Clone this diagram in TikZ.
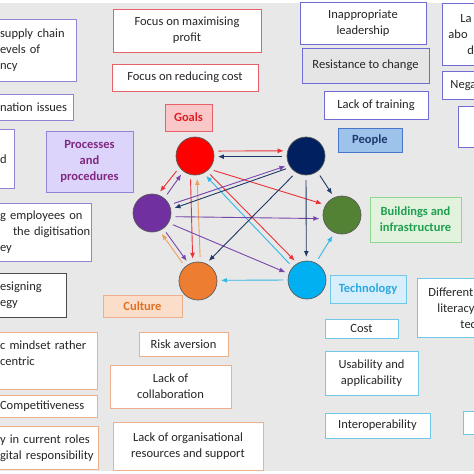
\documentclass[tikz,border=0pt]{standalone}
\usepackage{fontspec}
\setmainfont{Carlito}
\usetikzlibrary{arrows.meta}
\definecolor{bggray}{RGB}{232,232,232}
\definecolor{goalred}{RGB}{232,96,104}
\definecolor{goalfill}{RGB}{249,199,199}
\definecolor{goaltext}{RGB}{226,30,36}
\definecolor{peopleblue}{RGB}{112,108,212}
\definecolor{peoplefill}{RGB}{157,195,234}
\definecolor{peopleedge}{RGB}{72,118,200}
\definecolor{peopletext}{RGB}{30,56,110}
\definecolor{procpurple}{RGB}{150,130,210}
\definecolor{procfill}{RGB}{220,212,250}
\definecolor{proctext}{RGB}{128,40,128}
\definecolor{cultedge}{RGB}{236,176,140}
\definecolor{cultfill}{RGB}{251,222,202}
\definecolor{culttext}{RGB}{226,112,32}
\definecolor{techedge}{RGB}{112,200,232}
\definecolor{techfill}{RGB}{216,238,250}
\definecolor{techtext}{RGB}{44,168,224}
\definecolor{buildedge}{RGB}{144,214,144}
\definecolor{buildfill}{RGB}{226,242,220}
\definecolor{buildtext}{RGB}{30,160,80}
\definecolor{cred}{RGB}{255,0,0}
\definecolor{cnavy}{RGB}{0,32,96}
\definecolor{cpurple}{RGB}{112,48,160}
\definecolor{cgreen}{RGB}{84,130,53}
\definecolor{corange}{RGB}{237,125,49}
\definecolor{ccyan}{RGB}{0,176,240}
\definecolor{ared}{RGB}{236,50,56}
\definecolor{anavy}{RGB}{31,56,100}
\definecolor{apurple}{RGB}{120,70,170}
\definecolor{aorange}{RGB}{240,160,90}
\definecolor{acyan}{RGB}{50,184,230}
\begin{document}
\begin{tikzpicture}[x=1pt,y=1pt,yscale=-1,
    box/.style={draw, fill=white, line width=0.9pt, align=center, inner sep=1pt, text=black!85, font=\fontsize{12.5}{16}\selectfont},
    label/.style={box, line width=1pt, font=\fontsize{12.5}{16}\selectfont\bfseries},
    cutbox/.style={box, align=left, inner ysep=1pt},
    hub/.style={circle, draw=black!65, line width=0.7pt, minimum size=38pt, inner sep=0pt, outer sep=0pt},
    link/.style={line width=0.9pt, -{Latex[length=6pt,width=5pt]}, shorten <=5pt, shorten >=4pt}]
        %uncomment if require: \path (0,474);
        \useasboundingbox (0,0) rectangle (474,474);
        \fill[white] (0,0) rectangle (474,474);
        \fill[bggray] (0,3) rectangle (474,471);
        \clip (0,0) rectangle (474,474);

        %Shape: Circle
        \node[hub, fill=cred] (goalhub) at (195,156) {};
        %Shape: Circle
        \node[hub, fill=cnavy] (peoplehub) at (306,156) {};
        %Shape: Circle
        \node[hub, fill=cpurple] (prochub) at (152,213) {};
        %Shape: Circle
        \node[hub, fill=cgreen] (buildhub) at (342,215) {};
        %Shape: Circle
        \node[hub, fill=corange] (culthub) at (198,281) {};
        %Shape: Circle
        \node[hub, fill=ccyan] (techhub) at (307,280) {};

        %Straight Lines
        \draw[link, ared] (goalhub.15) -- (peoplehub.164);
        \draw[link, anavy] (peoplehub.182) -- (goalhub.-2);
        \draw[link, ared] (goalhub.216) -- (prochub.73);
        \draw[link, apurple] (prochub.50) -- (goalhub.233);
        \draw[link, ared] (goalhub.256) -- (culthub.106);
        \draw[link, aorange] (culthub.83) -- (goalhub.276);
        \draw[link, ared] (goalhub.-43) -- (buildhub.148);
        \draw[link, ared] (goalhub.-52) -- (techhub.120);
        \draw[link, acyan] (techhub.138) -- (goalhub.-64);
        \draw[link, apurple] (prochub.25) -- (peoplehub.208);
        \draw[link, anavy] (peoplehub.216) -- (prochub.11);
        \draw[link, apurple] (prochub.-11) -- (buildhub.191);
        \draw[link, apurple] (prochub.-31) -- (techhub.161);
        \draw[link, apurple] (prochub.-54) -- (culthub.118);
        \draw[link, aorange] (culthub.132) -- (prochub.-67);
        \draw[link, anavy] (peoplehub.-54) -- (buildhub.114);
        \draw[link, anavy] (peoplehub.-90) -- (techhub.92);
        \draw[link, anavy] (peoplehub.239) -- (culthub.65);
        \draw[link, acyan] (techhub.63) -- (buildhub.247);
        \draw[link, acyan] (techhub.180) -- (culthub.2);

        % Text Node
        \node[label, draw=goalred, fill=goalfill, text=goaltext, minimum width=47pt, minimum height=27pt] (goals) at (188.5,117.5) {Goals};
        % Text Node
        \node[label, draw=procpurple, fill=procfill, text=proctext, minimum width=87pt, minimum height=61pt] (processes) at (89.5,161.5) {Processes\\and\\procedures};
        % Text Node
        \node[label, draw=peopleedge, fill=peoplefill, text=peopletext, minimum width=64pt, minimum height=24pt] (people) at (370,140) {People};
        % Text Node
        \node[label, draw=buildedge, fill=buildfill, text=buildtext, minimum width=91pt, minimum height=45pt] (buildings) at (415.5,219.5) {Buildings and\\infrastructure};
        % Text Node
        \node[label, draw=techedge, fill=techfill, text=techtext, minimum width=76pt, minimum height=28pt] (technology) at (368,289) {Technology};
        % Text Node
        \node[label, draw=cultedge, fill=cultfill, text=culttext, minimum width=79pt, minimum height=22pt] (culture) at (142.5,306) {Culture};

        % Text Node
        \node[box, draw=goalred, minimum width=148pt, minimum height=43pt] (maximising) at (187,30.5) {Focus on maximising\\profit};
        % Text Node
        \node[box, draw=goalred, minimum width=146pt, minimum height=27pt] (reducing) at (185,77.5) {Focus on reducing cost};
        % Text Node
        \node[box, draw=peopleblue, minimum width=126pt, minimum height=42pt] (leadership) at (363,23) {Inappropriate\\leadership};
        % Text Node
        \node[box, draw=peopleblue, fill=black!10, minimum width=127pt, minimum height=35pt] (resistance) at (365.5,65.5) {Resistance to change};
        % Text Node
        \node[box, draw=peopleblue, minimum width=104pt, minimum height=28pt] (training) at (376,105) {Lack of training};
        % Text Node
        \node[box, draw=techedge, minimum width=73pt, minimum height=19pt] (cost) at (361.5,328.5) {Cost};
        % Text Node
        \node[box, draw=techedge, minimum width=93pt, minimum height=44pt] (usability) at (371.5,373) {Usability and\\applicability};
        % Text Node
        \node[box, draw=techedge, minimum width=105pt, minimum height=25pt] (interop) at (377.5,425.5) {Interoperability};
        % Text Node
        \node[box, draw=cultedge, minimum width=89pt, minimum height=24pt] (risk) at (183.5,344) {Risk aversion};
        % Text Node
        \node[box, draw=cultedge, minimum width=121pt, minimum height=43pt] (collab) at (170.5,386.5) {Lack of\\collaboration};
        % Text Node
        \node[box, draw=cultedge, minimum width=150pt, minimum height=48pt] (resources) at (188,446) {Lack of organisational\\resources and support};

        % Text Node
        \node[cutbox, draw=procpurple, anchor=north east, text width=73.5pt, inner xsep=3pt, minimum height=62pt] (supply) at (77,19) {supply chain\\evels of\\ncy};
        % Text Node
        \node[cutbox, draw=procpurple, anchor=north east, text width=70.5pt, inner xsep=3pt, minimum height=26pt] (nation) at (74,94) {nation issues};
        % Text Node
        \node[cutbox, draw=procpurple, anchor=north east, text width=11.5pt, inner xsep=3pt, minimum height=59pt] (dbox) at (15,129) {d};
        % Text Node
        \node[cutbox, draw=procpurple, anchor=north east, text width=88.5pt, inner xsep=3pt, minimum height=58pt] (employees) at (92,203) {\mbox{g employees on}\\\hspace*{13pt}\mbox{the digitisation}\\ey};
        % Text Node
        \node[cutbox, draw=black!70, anchor=north east, text width=63.5pt, inner xsep=3pt, minimum height=44pt] (designing) at (67,273) {esigning\\egy};
        % Text Node
        \node[cutbox, draw=cultedge, anchor=north east, text width=94.5pt, inner xsep=3pt, minimum height=57pt] (mindset) at (98,332) {\mbox{c mindset rather}\\centric\\\mbox{}};
        % Text Node
        \node[cutbox, draw=cultedge, anchor=north east, text width=94.5pt, inner xsep=3pt, minimum height=22pt] (competitive) at (98,395) {Competitiveness};
        % Text Node
        \node[cutbox, draw=cultedge, anchor=north east, text width=95.5pt, inner xsep=3pt, minimum height=43pt] (roles) at (99,426) {\mbox{y in current roles}\\\mbox{gital responsibility}};

        % Text Node
        \node[cutbox, draw=peopleblue, anchor=north west, text width=40pt, inner xsep=6pt, minimum height=62pt] (knowledge) at (442,3) {\hspace*{12pt}La\\abo\\\hspace*{19pt}di};
        % Text Node
        \node[cutbox, draw=peopleblue, anchor=north west, text width=40pt, inner xsep=8pt, minimum height=28pt] (negative) at (442,71) {Nega};
        % Text Node
        \node[cutbox, draw=peopleblue, anchor=north west, text width=40pt, inner xsep=4pt, minimum height=41pt] (emptyppl) at (458,106) {};
        % Text Node
        \node[cutbox, draw=techedge, anchor=north west, text width=60pt, inner xsep=11pt, minimum height=59pt] (literacy) at (417,278) {Different\\\hspace*{9pt}literacy\\\hspace*{32pt}tec};
        % Text Node
        \node[cutbox, draw=techedge, anchor=north west, text width=30pt, inner xsep=4pt, minimum height=23pt] (emptytech) at (463,411) {};

\end{tikzpicture}
\end{document}
